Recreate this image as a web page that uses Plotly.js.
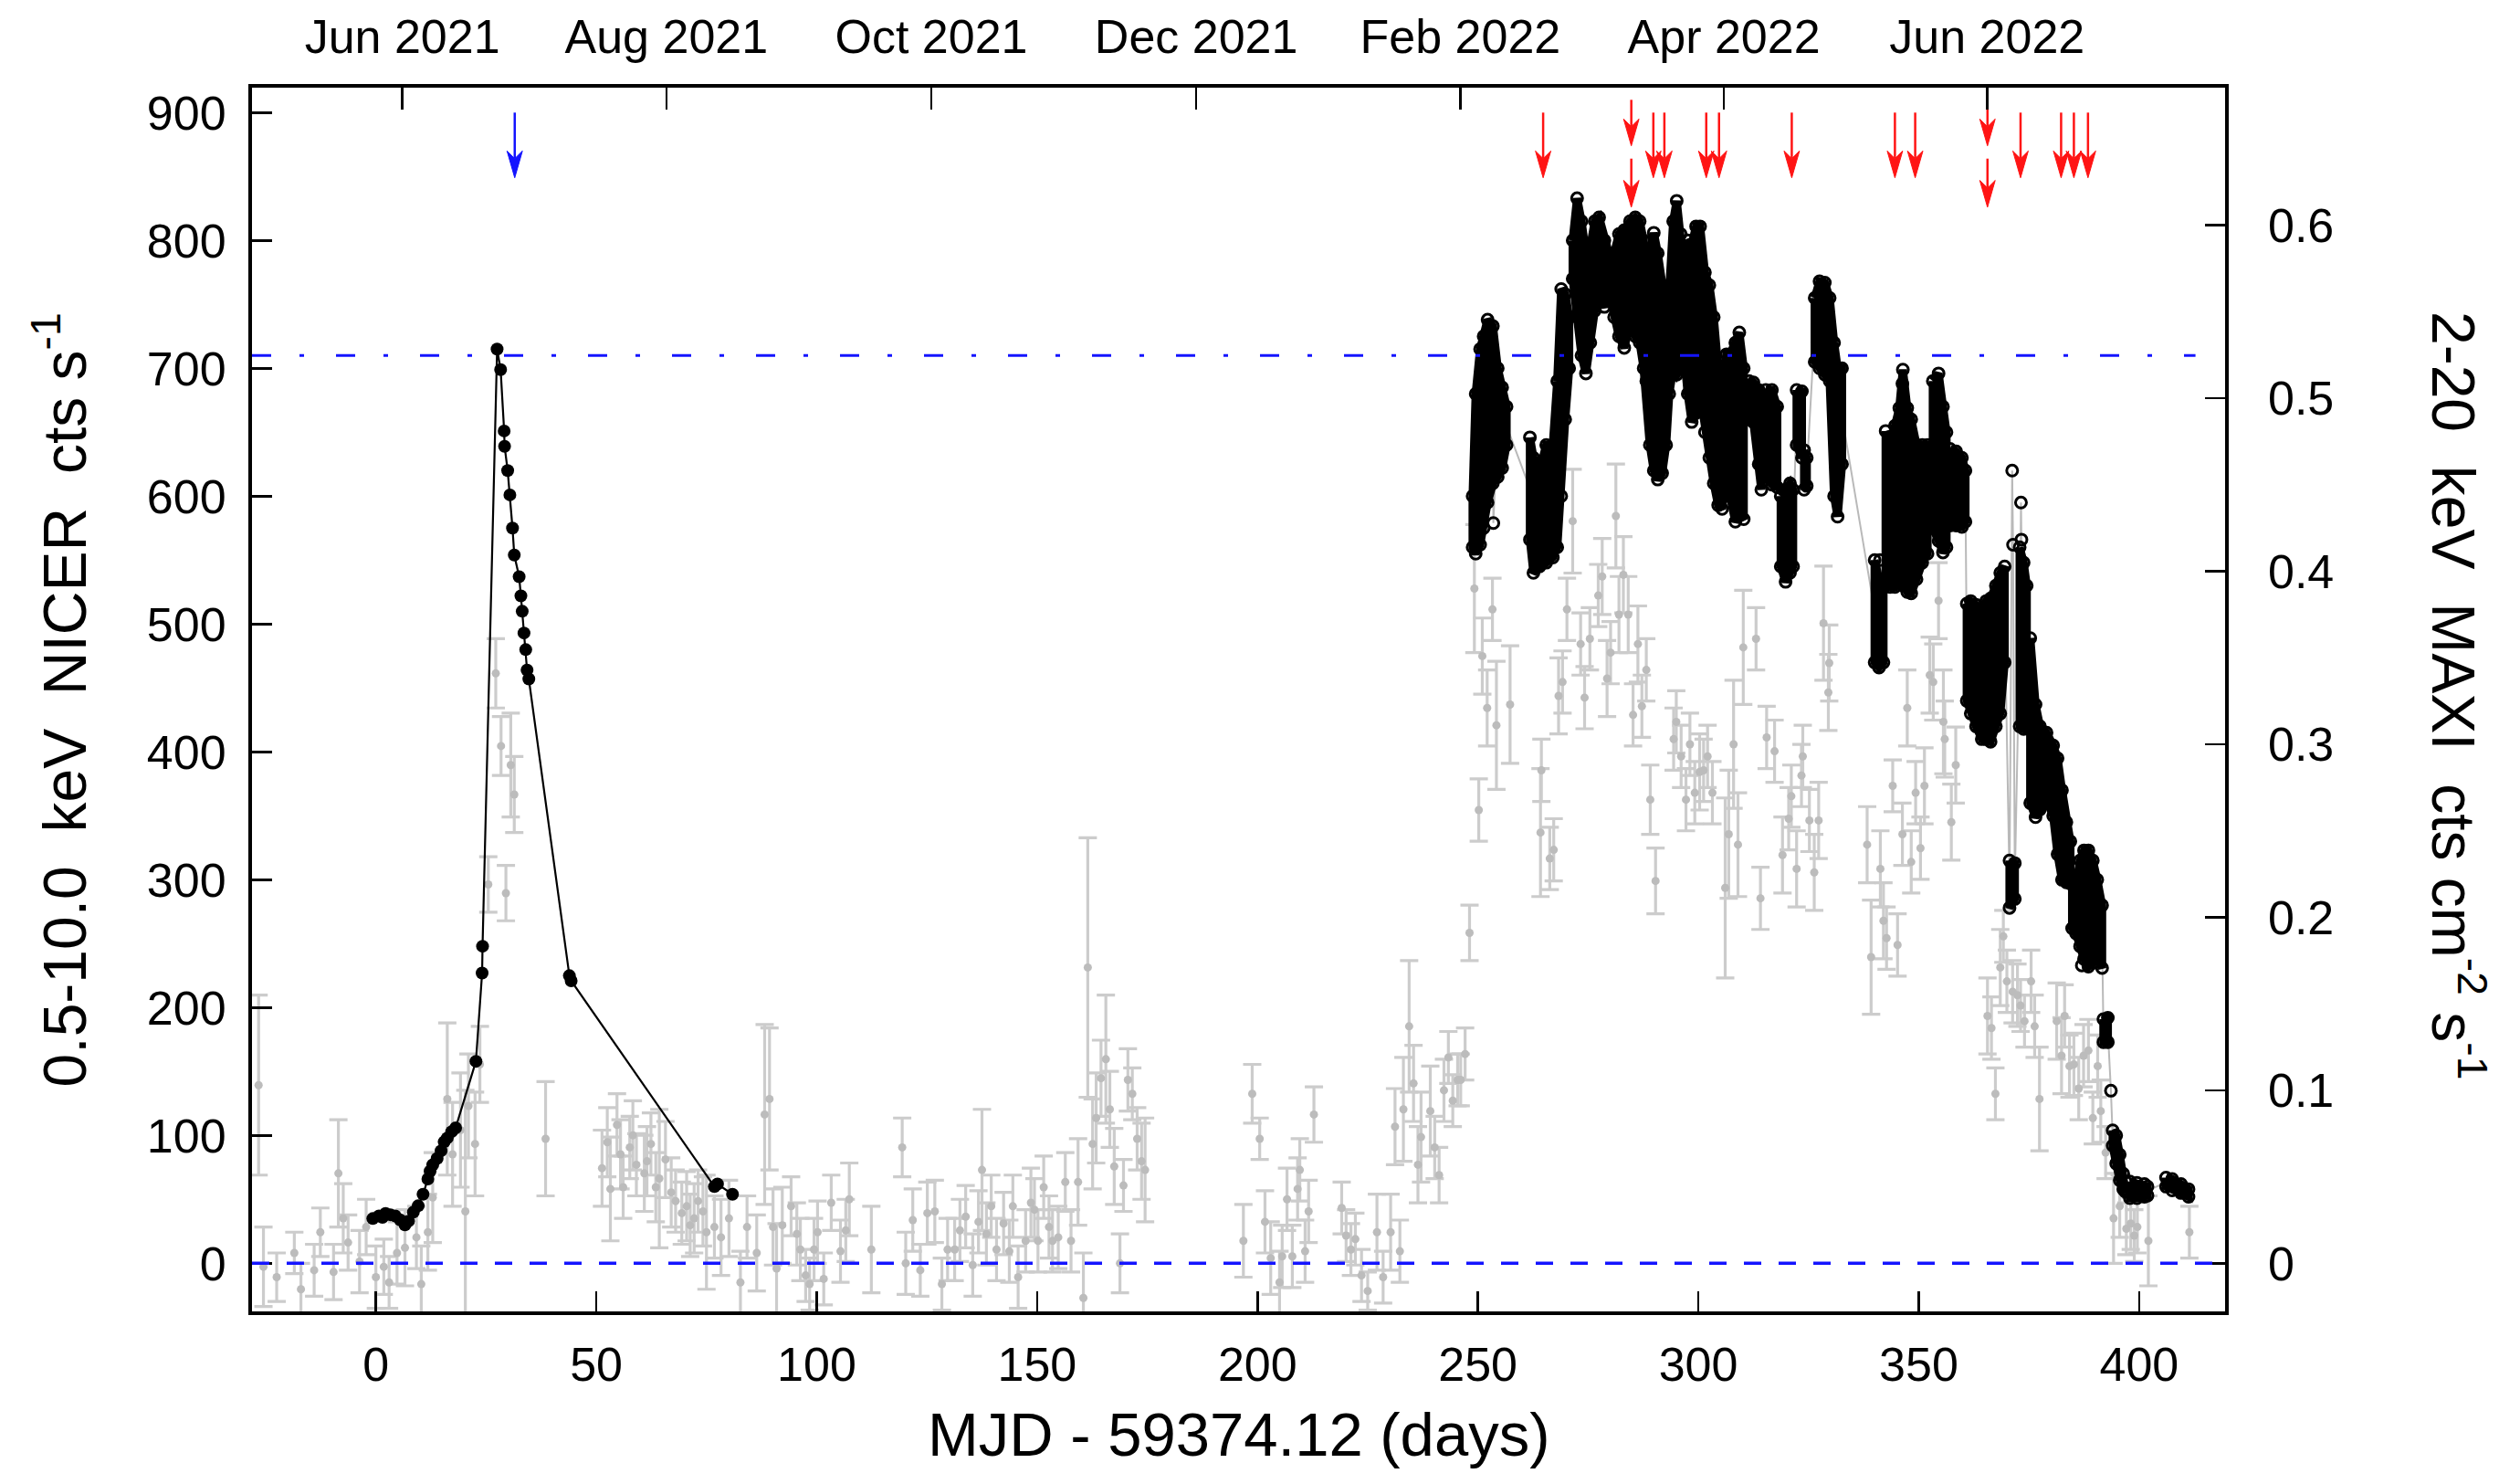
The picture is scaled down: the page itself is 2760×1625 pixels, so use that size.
<!DOCTYPE html>
<html><head><meta charset="utf-8">
<script src="https://cdn.plot.ly/plotly-3.0.1.min.js"></script>
<style>html,body{margin:0;padding:0;background:#fff}#chart{width:2760px;height:1625px}</style>
</head><body><div id="chart"></div><script>
// ---------------- DATA ----------------
// MAXI 2-20 keV (cts cm^-2 s^-1), days since MJD 59374.12
const maxiDay = [
-26.6,-25.5,-22.5,-18.5,-17,-14,-12.6,-9.6,-8.5,-7.4,-6.3,-3.7,-2.2,0,1.8,3,4.8,6.6,9.2,10.3,11.8,12.9,16.2,17.4,19.2,20.3,21,22.5,23.6,25.5,27.2,28.4,29.5,30.6,31.4,38.5,
51.3,52.5,53.2,54.7,55.5,56.1,57.6,58.3,59.1,60.9,61.5,62.4,63.5,64.3,65.7,67,68,69.4,70.5,71.3,72.2,73.1,74.2,75,76.8,78.3,80.1,82.7,84.2,86.4,
88.2,89.3,90.1,90.9,92.2,94.2,95.5,96.3,97.5,98.4,99.4,100.2,101.6,103.3,105.4,106.6,107.4,112.4,
119.4,120.2,121.8,123.5,125.1,126.8,128.4,129.7,131.3,132.5,133.8,135.4,136.7,137.5,138.5,139.6,140.8,142.4,143.7,144.5,145.7,147.4,148.6,149.4,150.2,151.5,152.7,153.5,154.8,156.4,157.7,159.3,160.5,161.5,162.6,163.4,164.5,165.6,166.5,167.5,168.8,169.6,170.6,171.6,172.7,173.7,174.5,
196.8,198.8,200.5,201.7,203,205,205.6,206.7,207.9,209.1,209.6,210.8,211.6,212.8,
219.1,220.1,221.2,222.2,223.6,225,227.1,228.5,230.2,231.2,232.3,233.1,234.4,235.4,236.4,237.1,239.2,240.2,241.2,242.3,243.3,244.3,245.4,246.1,247.1,248.1,249.2,250.2,251,252.1,253.3,254.2,257.3,
264.2,264.4,266.3,267.2,268.3,269.2,270.2,271.5,273.3,274.2,275.4,277.3,278.2,279.3,280.1,281.3,282,283,284.1,285.2,286.3,287.2,288.2,289.1,290.3,294.4,295,296.1,297.2,298.1,299.2,300.3,301.2,302.1,303.2,306.1,306.9,308,309,310.2,313.1,314.1,315.5,
317.3,319.1,320.5,321.1,322.3,323.4,323.7,325.2,326.3,327.3,328.4,329.5,329.7,
338.3,339.2,341.3,342,342.7,344.1,345.2,346.3,347.4,348.3,349.3,350.4,351.3,352.5,353.3,354.5,355.6,355.9,357.4,358.4,
365.6,366.5,367.4,368.5,369.2,370,371.3,372.4,373.1,374,375.5,376.3,377.4,381.3,382.4,383.1,384.2,385.2,386.3,387.4,388.5,389.5,390.6,391.3,392.4,394.2,395.6,397.1,398.1,398.9,399.6,402.1,411.4];
const maxiRate = [
0.103,-0.002,-0.008,0.006,-0.015,-0.004,0.018,-0.005,0.052,0.026,0.012,0.001,0.021,-0.008,-0.002,-0.011,0.006,0.009,0.015,-0.012,0.018,0.038,0.095,0.063,0.077,0.030,0.091,0.069,0.115,0.219,0.341,0.299,0.214,0.288,0.271,0.072,
0.055,0.070,0.043,0.080,0.063,0.044,0.067,0.074,0.057,0.052,0.059,0.069,0.044,0.049,0.060,0.041,0.036,0.029,0.033,0.022,0.026,0.036,0.030,0.018,0.021,0.015,0.026,-0.011,0.021,0.006,
0.086,0.095,0.021,-0.003,0.022,0.033,0.017,0.008,-0.007,-0.012,0.008,0.018,-0.009,0.035,0.007,0.019,0.037,0.008,
0.067,0.000,0.025,-0.004,0.029,0.030,-0.012,0.008,0.008,0.019,0.027,-0.001,0.024,0.054,0.017,0.033,0.008,0.023,0.007,0.033,-0.008,0.013,0.035,0.031,0.013,0.044,0.021,0.013,0.015,0.047,0.013,0.047,-0.020,0.171,0.069,0.084,0.107,0.118,0.089,0.056,0.000,0.045,0.106,0.098,0.072,0.059,0.054,
0.013,0.098,0.072,0.024,0.003,-0.011,0.004,0.037,0.004,0.043,0.054,0.007,0.030,0.086,
0.032,0.016,0.008,0.014,-0.007,-0.016,0.018,-0.008,0.018,0.079,0.007,0.089,0.137,0.104,0.057,0.073,0.088,0.067,0.051,0.100,0.119,0.094,0.106,0.106,0.121,0.191,0.390,0.262,0.351,0.321,0.378,0.311,0.323,
0.249,0.285,0.234,0.239,0.328,0.336,0.378,0.429,0.358,0.327,0.361,0.386,0.397,0.338,0.353,0.432,0.375,0.398,0.375,0.317,0.358,0.322,0.343,0.268,0.221,0.303,0.313,0.293,0.268,0.300,0.272,0.284,0.285,0.293,0.272,0.217,0.248,0.300,0.242,0.356,0.361,0.211,0.304,
0.296,0.236,0.257,0.270,0.228,0.282,0.293,0.256,0.226,0.256,0.370,0.330,0.347,
0.242,0.177,0.228,0.198,0.188,0.276,0.184,0.248,0.321,0.232,0.272,0.240,0.276,0.340,0.336,0.383,0.313,0.303,0.255,0.288,
0.143,0.136,0.098,0.171,0.189,0.163,0.157,0.155,0.149,0.140,0.163,0.137,0.095,0.140,0.120,0.143,0.114,0.115,0.101,0.120,0.123,0.084,0.114,0.088,0.064,0.026,0.033,0.020,0.023,0.016,0.021,0.013,0.018];
const maxiErr = [
0.052,0.023,0.014,0.012,0.015,0.015,0.014,0.016,0.031,0.020,0.016,0.018,0.016,0.018,0.016,0.015,0.018,0.022,0.018,0.022,0.022,0.026,0.044,0.030,0.033,0.070,0.030,0.030,0.022,0.016,0.020,0.017,0.016,0.030,0.022,0.033,
0.022,0.020,0.030,0.018,0.020,0.018,0.018,0.020,0.018,0.022,0.020,0.018,0.020,0.040,0.022,0.020,0.018,0.018,0.020,0.018,0.020,0.018,0.020,0.033,0.018,0.022,0.022,0.018,0.018,0.022,
0.052,0.041,0.022,0.026,0.022,0.017,0.018,0.018,0.015,0.015,0.018,0.018,0.015,0.016,0.018,0.018,0.021,0.025,
0.017,0.018,0.018,0.015,0.018,0.018,0.015,0.018,0.018,0.018,0.018,0.018,0.018,0.035,0.018,0.018,0.018,0.018,0.018,0.018,0.018,0.018,0.020,0.018,0.018,0.018,0.018,0.018,0.018,0.017,0.018,0.025,0.026,0.075,0.026,0.026,0.022,0.037,0.022,0.022,0.017,0.015,0.018,0.015,0.018,0.022,0.030,
0.021,0.017,0.012,0.018,0.021,0.018,0.018,0.018,0.018,0.018,0.018,0.018,0.018,0.016,
0.015,0.015,0.015,0.015,0.015,0.011,0.022,0.015,0.022,0.022,0.018,0.030,0.038,0.022,0.022,0.026,0.026,0.018,0.016,0.018,0.015,0.015,0.015,0.015,0.015,0.016,0.037,0.018,0.022,0.022,0.018,0.037,0.034,
0.037,0.018,0.018,0.018,0.022,0.018,0.018,0.030,0.018,0.018,0.018,0.018,0.022,0.022,0.018,0.030,0.022,0.022,0.022,0.018,0.022,0.018,0.018,0.020,0.019,0.018,0.018,0.018,0.018,0.018,0.018,0.022,0.018,0.018,0.018,0.052,0.037,0.037,0.030,0.033,0.018,0.018,0.018,
0.018,0.022,0.018,0.018,0.022,0.018,0.018,0.018,0.022,0.022,0.033,0.022,0.022,
0.022,0.033,0.022,0.022,0.018,0.015,0.018,0.018,0.022,0.018,0.018,0.018,0.022,0.022,0.022,0.022,0.030,0.022,0.022,0.022,
0.022,0.018,0.015,0.022,0.015,0.018,0.018,0.018,0.015,0.015,0.018,0.018,0.030,0.022,0.022,0.018,0.018,0.018,0.018,0.018,0.018,0.015,0.018,0.018,0.015,0.026,0.018,0.015,0.015,0.015,0.015,0.026,0.015];

// NICER 0.5-10 keV, first outburst (filled circles)
const nicer1Day  = [-0.7,0.7,1.5,2.2,3.3,4.4,5.5,6.6,7.4,8.5,9.6,10.7,11.8,12.3,12.9,13.9,14.8,15.5,16.2,17.2,18.1,22.7,24.1,24.2,27.5,28.3,29.1,29.2,29.9,30.4,31.0,31.4,32.5,32.9,33.2,33.6,34.0,34.3,34.7,43.9,44.3,76.8,77.5,80.9];
const nicer1Rate = [35,37,36,39,38,37,34,30,33,40,45,54,66,72,77,82,88,95,98,103,106,158,227,248,715,699,651,639,620,601,575,554,537,522,510,493,480,464,457,225,221,60,62,54];

// NICER second outburst: per-observation envelopes (upper / lower), null = gap between observations
const nicer2Day = [248.8,249.5,250.5,251.3,252.2,253.4,254.5,255.5,256.5,null,
261.8,262.6,264,265.5,267,268,268.9,269.8,270.7,null,
271.5,272.5,273.5,274.5,275.5,276.5,277.5,278.7,279.7,280.9,282,283.2,284.5,285.7,286.7,287.6,288.2,289,289.9,290.8,291.8,292.7,293.4,294.3,295.1,296,296.8,297.6,298.5,299.5,300.4,301.5,302.5,303.5,304.5,305.4,306.4,307.2,308.4,309.3,310.3,null,
311.5,312.5,313.7,314.3,null,315.3,316.7,317.9,null,318.7,319.8,320.8,321.5,null,322.3,323.5,null,324.0,324.6,null,
326.4,327.5,328.7,329.8,330.8,331.6,332.6,null,340.0,341.0,342.0,null,
342.5,343.5,344.6,345.6,346.4,347.4,348.3,349.5,350.8,352.0,null,353.2,354.5,355.5,356.3,null,357.1,358.5,359.8,360.6,null,
360.9,361.8,363,364.3,365.3,366.3,367.5,368.5,369.5,null,370.6,371.8,null,372.9,373.8,374.5,null,
375.3,376.5,377.5,379,380.5,381.5,382.5,383.5,384.4,null,384.8,385.7,386.6,387.5,388.5,389.5,390.5,391.6,null,
391.9,392.9,null,394.0,394.8,395.6,396.4,396.9,null,397.9,399.5,401.2,401.9,null,406.1,407.5,409.5,411.2];
const nicer2Hi = [600,680,715,725,738,733,700,685,670,null,
646,630,620,640,640,690,762,758,740,null,
800,833,815,790,795,815,818,800,790,790,805,808,815,818,815,800,770,783,806,790,760,745,760,815,831,805,775,800,797,811,811,775,765,740,700,690,711,711,720,728,700,null,
690,689,683,680,null,683,683,670,null,600,605,610,605,null,683,682,null,636,630,null,
755,768,767,755,720,700,700,null,550,535,533,null,
651,640,655,669,699,669,660,640,640,640,null,690,696,670,650,null,637,635,630,620,null,
516,518,515,512,518,520,530,540,545,null,315,313,null,560,548,530,null,
489,437,420,415,405,395,370,345,330,null,300,297,315,323,323,315,300,280,null,
191,192,null,104,100,85,70,64,null,64,63,62,60,null,67,66,62,58];
const nicer2Lo = [560,555,562,575,595,610,615,622,640,null,
566,540,545,548,552,560,600,660,700,null,
770,740,710,696,720,745,755,748,760,740,725,716,735,725,720,700,690,640,620,613,618,640,680,700,695,700,710,680,658,665,680,650,630,610,593,590,620,600,580,585,582,null,
660,658,625,605,null,615,609,607,null,545,533,540,545,null,640,630,null,605,608,null,
705,700,695,690,600,584,625,null,470,466,470,null,
530,529,529,535,530,525,524,535,548,555,null,575,565,556,560,null,577,577,576,580,null,
440,430,420,410,410,408,420,430,470,null,278,285,null,420,418,430,null,
360,349,355,362,350,320,300,298,297,null,262,258,248,238,232,235,238,231,null,
173,173,null,92,78,65,58,56,null,51,51,52,53,null,60,57,55,52];
// isolated NICER points (open circles away from the main bands)
const nicer2OutDay  = [253.5,314.2,341.2,346.3,371.2,371.4,373.2,373.3,387.0,393.6];
const nicer2OutRate = [579,626,550,688,620,562,595,566,233,135];

// arrows (days, NICER-scale start and tip)
const redArrowDay  = [264.8,284.8,284.8,289.8,292.3,301.8,304.7,321.2,344.6,349.2,365.6,365.6,373.1,382.3,385.2,388.4];
const redArrowFrom = [900,910,864,900,900,900,900,900,900,900,910,864,900,900,900,900];
const redArrowTo   = [849,874,826,849,849,849,849,849,849,849,874,826,849,849,849,849];
const blueArrowDay = [31.5], blueArrowFrom = [900], blueArrowTo = [849];

// reference levels
const zeroLevel = 0, peakLevel = 710;

// ticks
const bottomTickVals = [0,50,100,150,200,250,300,350,400];
const leftTickVals = [0,100,200,300,400,500,600,700,800,900];
const rightTickVals = [0,0.1,0.2,0.3,0.4,0.5,0.6];
const rightTickText = ['0','0.1','0.2','0.3','0.4','0.5','0.6'];
const topTickDays = [6.0,65.9,126.0,186.1,246.0,305.8,365.5];
const topTickText = ['Jun 2021','Aug 2021','Oct 2021','Dec 2021','Feb 2022','Apr 2022','Jun 2022'];

// ---------------- SCALES / STYLE ----------------
const X_MIN = -28.1, X_MAX = 419.5;
const Y_MIN = -37.6, Y_MAX = 919.5;
const K = 1353.1; // NICER-axis units per MAXI unit (right axis alignment)
const FONT = 'Liberation Sans, Arial, Helvetica, sans-serif';
const TICKFONT = {family: FONT, size: 52, color: '#000'};

// build filled envelopes from per-observation hi/lo
function buildBand(day, hi, lo) {
  const px = [], py = [];
  let seg = [];
  const flush = () => {
    if (seg.length) {
      seg.forEach(i => { px.push(day[i]); py.push(hi[i]); });
      for (let k = seg.length - 1; k >= 0; k--) { px.push(day[seg[k]]); py.push(lo[seg[k]]); }
      px.push(day[seg[0]]); py.push(hi[seg[0]]);
      px.push(null); py.push(null);
    }
    seg = [];
  };
  for (let i = 0; i < day.length; i++) { if (day[i] === null) flush(); else seg.push(i); }
  flush();
  return {px, py};
}
const band = buildBand(nicer2Day, nicer2Hi, nicer2Lo);

// grey connecting path through observation mid values and isolated points
const pathPts = [];
nicer2Day.forEach((d, i) => { if (d !== null) pathPts.push([d, (nicer2Hi[i] + nicer2Lo[i]) / 2]); });
nicer2OutDay.forEach((d, i) => pathPts.push([d, nicer2OutRate[i]]));
pathPts.sort((a, b) => a[0] - b[0]);

// arrows
const HEAD_HW = 1.75, HEAD_LEN = 21, HEAD_NOTCH = 15;
function arrowGeom(days, from, to) {
  const sx = [], sy = [], hx = [], hy = [];
  days.forEach((d, i) => {
    sx.push(d, d, null); sy.push(from[i], to[i] + HEAD_NOTCH, null);
    hx.push(d, d - HEAD_HW, d, d + HEAD_HW, d, null);
    hy.push(to[i], to[i] + HEAD_LEN, to[i] + HEAD_NOTCH, to[i] + HEAD_LEN, to[i], null);
  });
  return {sx, sy, hx, hy};
}
const redA = arrowGeom(redArrowDay, redArrowFrom, redArrowTo);
const blueA = arrowGeom(blueArrowDay, blueArrowFrom, blueArrowTo);
const RED = 'rgb(255,20,20)', BLUE = 'rgb(20,20,255)';
const OPEN = {symbol: 'circle-open', size: 12, color: '#000', line: {width: 3, color: '#000'}};

const traces = [
  { // MAXI (right axis)
    x: maxiDay, y: maxiRate, xaxis: 'x', yaxis: 'y', type: 'scatter', mode: 'markers',
    marker: {color: 'rgb(188,188,188)', size: 9},
    error_y: {type: 'data', array: maxiErr, visible: true, color: 'rgb(204,204,204)', thickness: 3.2, width: 10},
    hoverinfo: 'skip', showlegend: false
  },
  { // NICER second outburst connecting line
    x: pathPts.map(p => p[0]), y: pathPts.map(p => p[1]), xaxis: 'x', yaxis: 'y2',
    type: 'scatter', mode: 'lines', line: {color: 'rgb(185,185,185)', width: 2},
    hoverinfo: 'skip', showlegend: false
  },
  { // NICER second outburst dense bands
    x: band.px, y: band.py, xaxis: 'x', yaxis: 'y2', type: 'scatter', mode: 'lines',
    fill: 'toself', fillcolor: '#000', line: {color: '#000', width: 9},
    hoverinfo: 'skip', showlegend: false
  },
  {x: nicer2Day, y: nicer2Hi, xaxis: 'x', yaxis: 'y2', type: 'scatter', mode: 'markers', marker: OPEN, hoverinfo: 'skip', showlegend: false},
  {x: nicer2Day, y: nicer2Lo, xaxis: 'x', yaxis: 'y2', type: 'scatter', mode: 'markers', marker: OPEN, hoverinfo: 'skip', showlegend: false},
  {x: nicer2OutDay, y: nicer2OutRate, xaxis: 'x', yaxis: 'y2', type: 'scatter', mode: 'markers', marker: OPEN, hoverinfo: 'skip', showlegend: false},
  { // NICER first outburst
    x: nicer1Day, y: nicer1Rate, xaxis: 'x', yaxis: 'y2', type: 'scatter', mode: 'lines+markers',
    line: {color: '#000', width: 2.2}, marker: {color: '#000', size: 14},
    hoverinfo: 'skip', showlegend: false
  },
  {x: redA.sx, y: redA.sy, xaxis: 'x', yaxis: 'y2', mode: 'lines', line: {color: RED, width: 2.5}, hoverinfo: 'skip', showlegend: false},
  {x: redA.hx, y: redA.hy, xaxis: 'x', yaxis: 'y2', mode: 'lines', fill: 'toself', fillcolor: RED, line: {color: RED, width: 1}, hoverinfo: 'skip', showlegend: false},
  {x: blueA.sx, y: blueA.sy, xaxis: 'x', yaxis: 'y2', mode: 'lines', line: {color: BLUE, width: 2.5}, hoverinfo: 'skip', showlegend: false},
  {x: blueA.hx, y: blueA.hy, xaxis: 'x', yaxis: 'y2', mode: 'lines', fill: 'toself', fillcolor: BLUE, line: {color: BLUE, width: 1}, hoverinfo: 'skip', showlegend: false},
  { // carrier for the top calendar axis
    x: topTickDays, y: topTickDays.map(() => null), xaxis: 'x2', yaxis: 'y', mode: 'markers',
    hoverinfo: 'skip', showlegend: false
  }
];

const layout = {
  width: 2760, height: 1625,
  margin: {l: 276, r: 323, t: 96, b: 189, pad: 0},
  paper_bgcolor: '#fff', plot_bgcolor: '#fff',
  font: {family: FONT, color: '#000'},
  showlegend: false,
  xaxis: {
    range: [X_MIN, X_MAX], anchor: 'y', tickvals: bottomTickVals, ticks: 'inside', ticklen: 22,
    tickwidth: 2.5, tickcolor: '#000', tickfont: TICKFONT, ticklabelstandoff: 10,
    showline: true, linecolor: '#000', linewidth: 4, mirror: true,
    showgrid: false, zeroline: false
  },
  xaxis2: {
    range: [X_MIN, X_MAX], overlaying: 'x', side: 'top', anchor: 'y', tickvals: topTickDays,
    ticktext: topTickText, ticks: 'inside', ticklen: 24, tickwidth: 2.5, tickcolor: '#000',
    tickfont: TICKFONT, ticklabelstandoff: 27, showline: false, showgrid: false, zeroline: false
  },
  yaxis: { // MAXI, right
    range: [Y_MIN / K, Y_MAX / K], side: 'right', anchor: 'x', tickvals: rightTickVals,
    ticktext: rightTickText, ticks: 'inside', ticklen: 22, tickwidth: 2.5, tickcolor: '#000',
    tickfont: TICKFONT, ticklabelstandoff: 46, showline: false, showgrid: false, zeroline: false
  },
  yaxis2: { // NICER, left
    range: [Y_MIN, Y_MAX], overlaying: 'y', side: 'left', anchor: 'x', tickvals: leftTickVals,
    ticks: 'inside', ticklen: 22, tickwidth: 2.5, tickcolor: '#000', tickfont: TICKFONT,
    ticklabelstandoff: 14, showline: true, linecolor: '#000', linewidth: 4, mirror: true,
    showgrid: false, zeroline: false
  },
  shapes: [
    {type: 'line', xref: 'paper', x0: 0, x1: 1, yref: 'y2', y0: zeroLevel, y1: zeroLevel,
     line: {color: BLUE, width: 3.5, dash: '19px,19px'}},
    {type: 'line', xref: 'paper', x0: 0, x1: 0.985, yref: 'y2', y0: peakLevel, y1: peakLevel,
     line: {color: BLUE, width: 3, dash: '21px,31px,5px,35px'}}
  ],
  annotations: [
    {text: 'MJD - 59374.12 (days)', xref: 'paper', yref: 'paper', x: 0.5, y: -0.1,
     xanchor: 'center', yanchor: 'middle', showarrow: false, font: {family: FONT, size: 67, color: '#000'}},
    {text: '0.5-10.0  keV  NICER  cts s<sup>-1</sup>', xref: 'paper', yref: 'paper', x: -0.097, y: 0.5,
     textangle: -90, xanchor: 'center', yanchor: 'middle', showarrow: false,
     font: {family: FONT, size: 66, color: '#000'}},
    {text: '2-20  keV  MAXI  cts cm<sup>-2</sup> s<sup>-1</sup>', xref: 'paper', yref: 'paper', x: 1.118, y: 0.503,
     textangle: 90, xanchor: 'center', yanchor: 'middle', showarrow: false,
     font: {family: FONT, size: 66, color: '#000'}}
  ]
};

Plotly.newPlot('chart', traces, layout, {staticPlot: true, displayModeBar: false});
</script></body></html>
